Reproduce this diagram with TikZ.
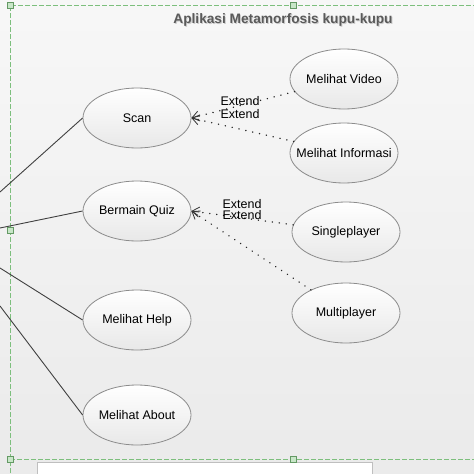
\documentclass[tikz,border=0pt]{standalone}
\usepackage{fontspec}
\setmainfont{Liberation Sans}
\usetikzlibrary{arrows.meta,shapes.geometric,calc}
\definecolor{framegreen}{HTML}{7DBF7D}
\definecolor{handlefill}{HTML}{C8E6C8}
\definecolor{ellborder}{HTML}{8C8C8C}
\definecolor{actorline}{HTML}{404040}
\definecolor{titlegray}{HTML}{5A5A5A}
\tikzset{
  usecase/.style={ellipse, draw=ellborder, line width=0.8pt, top color=white, bottom color=black!9,
    minimum width=108pt, minimum height=60pt, inner xsep=-12pt, inner ysep=0pt, font=\fontsize{12.5}{14}\selectfont},
  assoc/.style={draw=actorline, line width=0.9pt},
  extline/.style={draw=black!85, line width=1.6pt, dash pattern=on 0.01pt off 7pt, line cap=round},
  extarrow/.style={-{Straight Barb[length=7pt,width=10pt,line width=0.8pt]}, draw=black!80, line width=0.8pt},
  extlabel/.style={inner sep=0pt, font=\fontsize{12.5}{14}\selectfont},
  handle/.style={draw=framegreen!80!black, fill=handlefill, line width=0.6pt, minimum size=6pt, inner sep=0pt, rectangle}
}
\begin{document}
\begin{tikzpicture}[x=1pt,y=-1pt]
\useasboundingbox (0,0) rectangle (474,474);
% background
\shade[top color=black!3, bottom color=black!8] (0,0) rectangle (474,462);
\fill[black!8] (0,462) rectangle (474,474);
\draw[draw=black!25, fill=white] (37,462) rectangle (372,480);
% frame
\draw[framegreen, line width=0.8pt, dash pattern=on 5pt off 2pt] (10,480) -- (10,5) -- (480,5);
\draw[framegreen, line width=0.8pt, dash pattern=on 5pt off 2pt] (10,459) -- (480,459);
\node[handle] (h1) at (10,5) {};
\node[handle] (h2) at (293,5) {};
\node[handle] (h3) at (10,230) {};
\node[handle] (h4) at (10,459) {};
\node[handle] (h5) at (293,459) {};
% title
\node[font=\bfseries\fontsize{13.7}{16}\selectfont, text=black!20] at (284,21) {Aplikasi Metamorfosis kupu-kupu};
\node[font=\bfseries\fontsize{13.7}{16}\selectfont, text=titlegray] (title) at (283,20) {Aplikasi Metamorfosis kupu-kupu};
% use cases
\node[usecase] (scan) at (137,118) {Scan};
\node[usecase] (quiz) at (137,211) {Bermain Quiz};
\node[usecase] (help) at (137,320) {Melihat Help};
\node[usecase] (about) at (137,415) {Melihat About};
\node[usecase] (video) at (344,79) {Melihat Video};
\node[usecase] (info) at (344,153) {Melihat Informasi};
\node[usecase] (single) at (346,232) {Singleplayer};
\node[usecase] (multi) at (346,313) {Multiplayer};
% actor side coordinates
\coordinate (a1) at (0,192);
\coordinate (a2) at (0,228);
\coordinate (a3) at (0,268);
\coordinate (a4) at (0,306);
\draw[assoc] (a1) -- (scan.west);
\draw[assoc] (a2) -- (quiz.west);
\draw[assoc] (a3) -- (help.west);
\draw[assoc] (a4) -- (about.west);
% extend connectors
\draw[extline] (video) -- (scan.east);
\draw[extline] (info) -- (scan.east);
\draw[extline] (single) -- (quiz.east);
\draw[extline] (multi) -- (quiz.east);
\draw[extarrow] ($(scan.east)!8pt!(video)$) -- (scan.east);
\draw[extarrow] ($(scan.east)!8pt!(info)$) -- (scan.east);
\draw[extarrow] ($(quiz.east)!8pt!(single)$) -- (quiz.east);
\draw[extarrow] ($(quiz.east)!8pt!(multi)$) -- (quiz.east);
% labels
\node[extlabel] (l1) at (240,101) {Extend};
\node[extlabel] (l2) at (240,114) {Extend};
\node[extlabel] (l3) at (242,204) {Extend};
\node[extlabel] (l4) at (242,215) {Extend};
\end{tikzpicture}
\end{document}
